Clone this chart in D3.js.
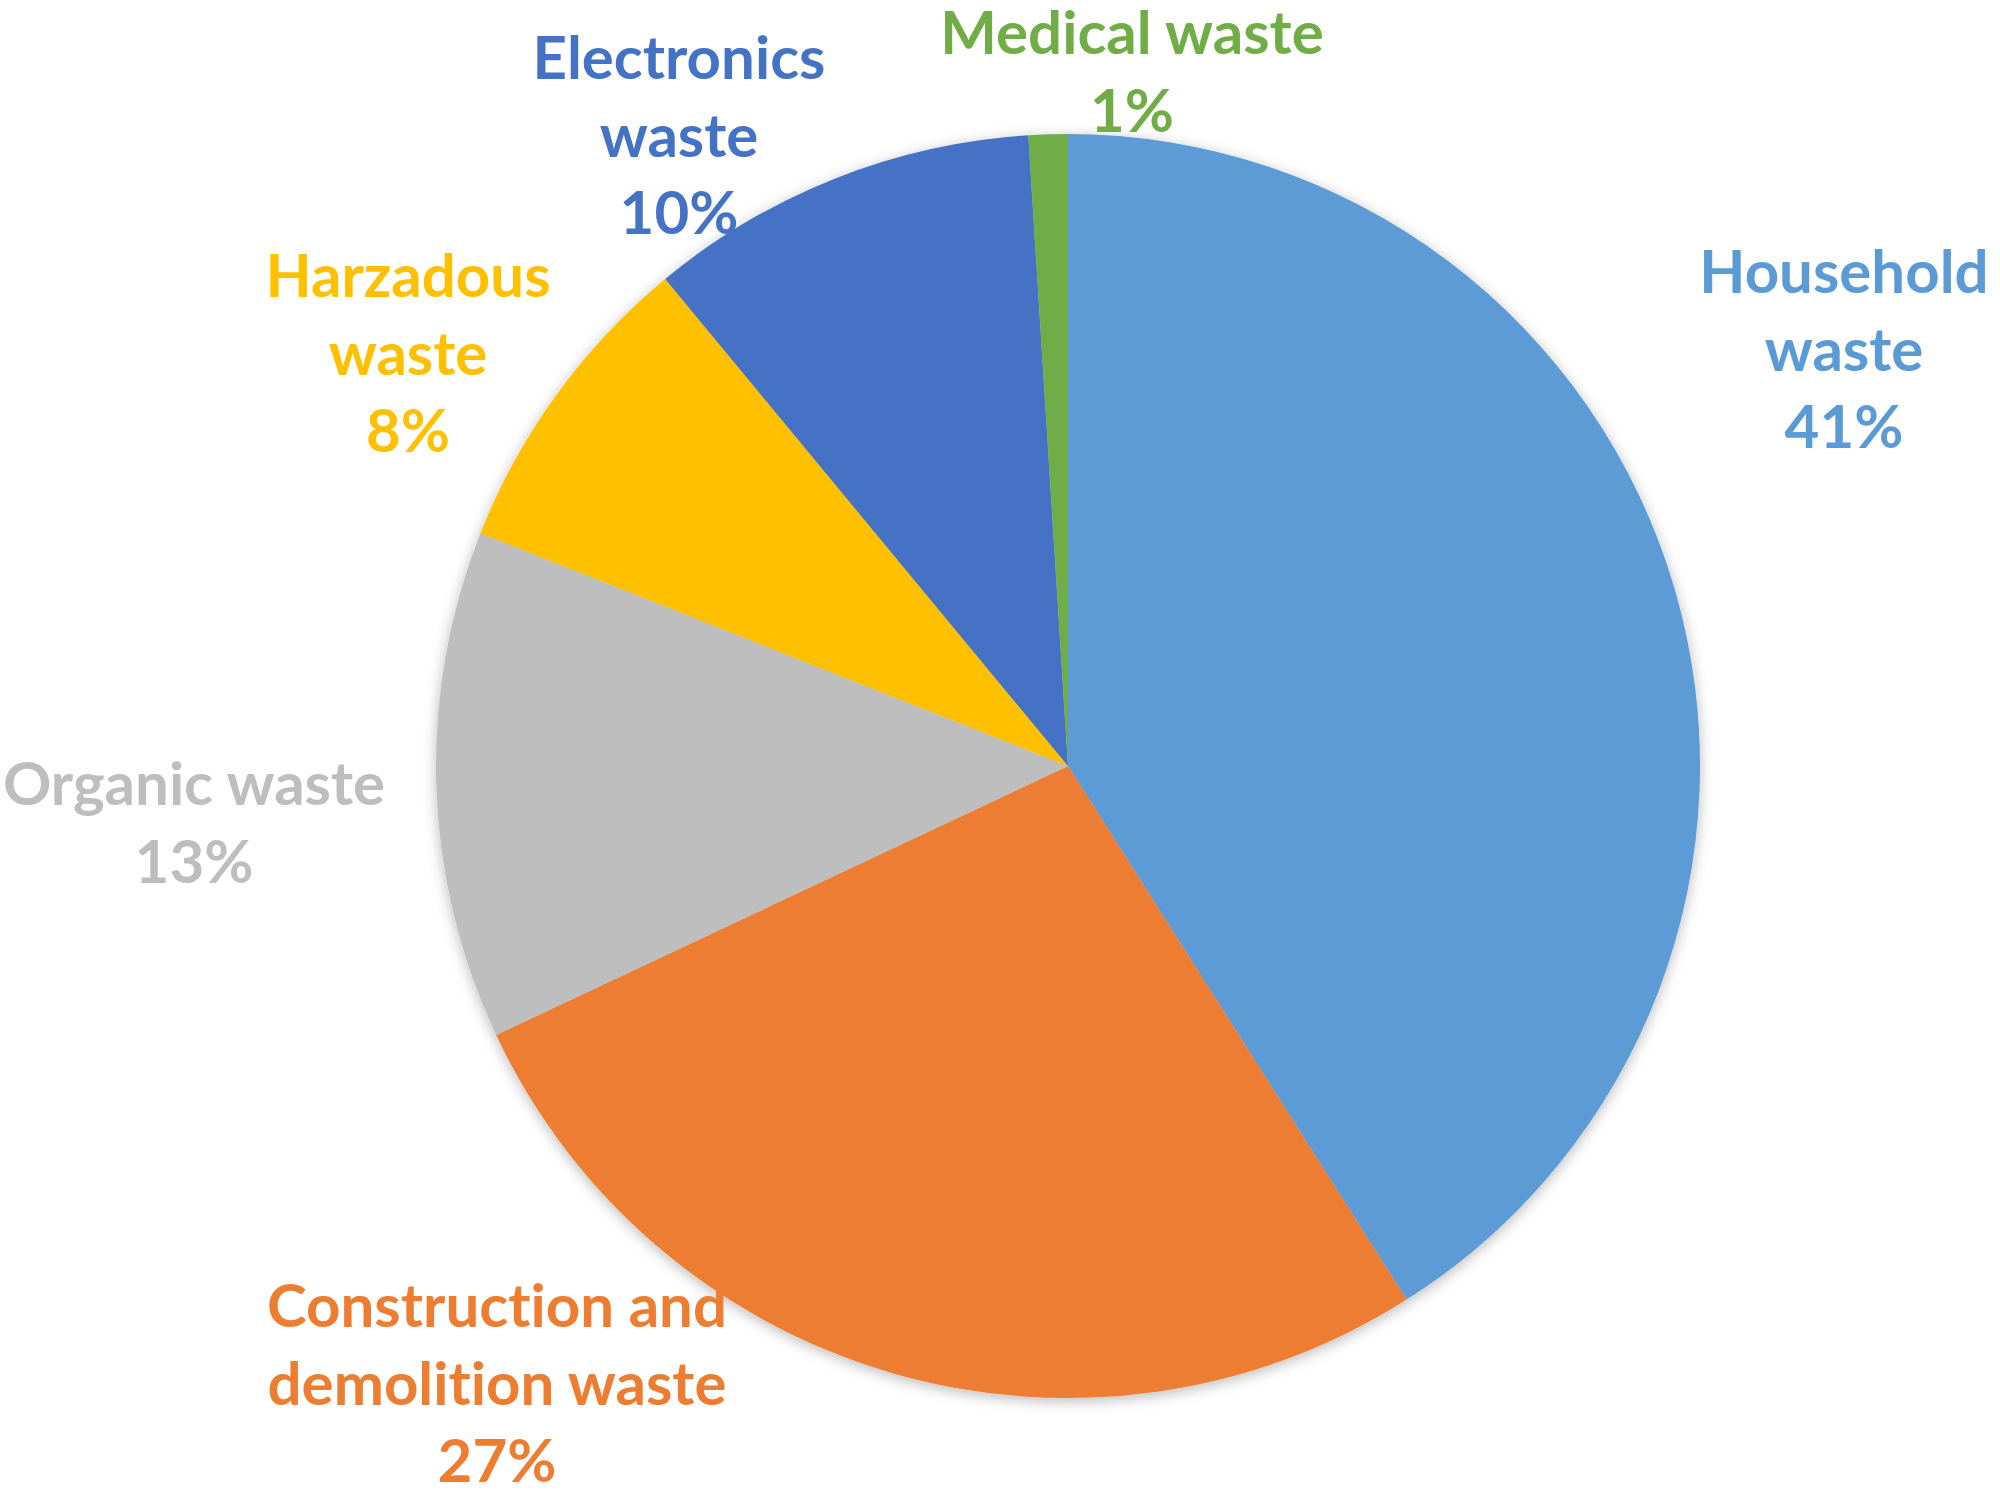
<!doctype html>
<html>
<head>
<meta charset="utf-8">
<script src="https://cdn.jsdelivr.net/npm/d3@7"></script>
<style>
  html, body { margin: 0; padding: 0; background: #fff; }
  svg { display: block; }
  text { font-variant-ligatures: none; font-feature-settings: "liga" 0, "clig" 0; }
</style>
</head>
<body>
<script>
// Waste categories, clockwise from 12 o'clock.
const categories = ["Household waste", "Construction and demolition waste", "Organic waste", "Harzadous waste", "Electronics waste", "Medical waste"];
const shares = [41, 27, 13, 8, 10, 1];
const labelLines = [
  ["Household", "waste"],
  ["Construction and", "demolition waste"],
  ["Organic waste"],
  ["Harzadous", "waste"],
  ["Electronics", "waste"],
  ["Medical waste"]
];
const colors = ["#5b9bd5", "#ed7d31", "#bebebe", "#ffc000", "#4472c4", "#70ad47"];

// Where each data label block sits (centre x, first baseline).
const labelAnchor = [[1844, 293], [497, 1327], [194, 805], [408, 297], [679, 79], [1132, 54]];

const width = 2000;
const height = 1497;
const cx = 1068;
const cy = 766;
const radius = 632;
const lineHeight = 77.5;

const svg = d3.select("body").append("svg")
    .attr("width", width)
    .attr("height", height)
    .attr("viewBox", [0, 0, width, height]);

const defs = svg.append("defs");
defs.append("filter")
    .attr("id", "shadow")
    .attr("x", "-10%").attr("y", "-10%")
    .attr("width", "120%").attr("height", "120%")
  .append("feDropShadow")
    .attr("dx", 0)
    .attr("dy", 3)
    .attr("stdDeviation", 7)
    .attr("flood-color", "#000")
    .attr("flood-opacity", 0.28);

const data = categories.map((name, i) => ({name, value: shares[i], lines: labelLines[i], color: colors[i], anchor: labelAnchor[i]}));

const pie = d3.pie()
    .sort(null)
    .value(d => d.value);

const arc = d3.arc()
    .innerRadius(0)
    .outerRadius(radius);

const arcs = pie(data);

svg.append("g")
    .attr("transform", `translate(${cx},${cy})`)
    .attr("filter", "url(#shadow)")
  .selectAll("path")
  .data(arcs)
  .join("path")
    .attr("fill", d => d.data.color)
    .attr("d", arc);

// Data labels: category name then percentage.
const fmt = d3.format(".0%");
const total = d3.sum(shares);

svg.append("g")
    .attr("font-family", "Lato, 'Open Sans', sans-serif")
    .attr("font-weight", 700)
    .attr("font-size", 60)
    .attr("text-anchor", "middle")
  .selectAll("text")
  .data(data)
  .join("text")
    .attr("fill", d => d.color)
    .attr("x", d => d.anchor[0])
    .attr("y", d => d.anchor[1])
    .each(function(d) {
      const t = d3.select(this);
      const lines = [...d.lines, fmt(d.value / total)];
      lines.forEach((s, i) => {
        t.append("tspan")
            .attr("x", d.anchor[0])
            .attr("dy", i === 0 ? 0 : lineHeight)
            .text(s);
      });
    });
</script>
</body>
</html>
